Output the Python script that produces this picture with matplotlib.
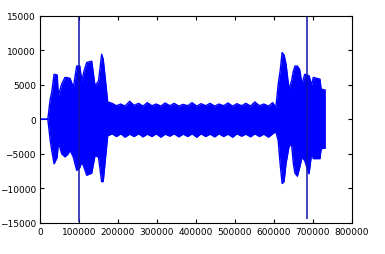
import matplotlib
matplotlib.use('Agg')
import matplotlib.pyplot as plt

# envelope of the waveform (sample index, upper peak, lower peak)
pos = [0, 20000, 21000, 26000, 30000, 36000, 44000, 47000, 55500, 64000,
       72000, 77000, 85500, 94000, 102000, 107000, 113000, 119700, 132500,
       141000, 150000, 158000, 162000, 169000, 173500,
       185000, 196000, 207000, 218000, 230000, 241000, 253000, 264000,
       275000, 287000, 298000, 310000, 321000, 333000, 344000, 356000,
       367000, 379000, 390000, 402000, 413000, 425000, 436000, 448000,
       459000, 471000, 482000, 494000, 505000, 517000, 528000, 540000,
       551000, 563000, 574000, 586000, 597000,
       605000, 611000, 616000, 621000, 626000, 631000, 638500, 645000,
       650000, 654000, 660000, 666000, 672000, 679000, 690000, 696500,
       701000, 718000, 721000, 732000]
upper = [0, 0, 500, 2900, 3900, 6500, 6400, 3400, 5100, 6050,
         6000, 5900, 4600, 7700, 7700, 5550, 7000, 8200, 8400,
         4850, 5500, 9400, 8700, 5000, 2500,
         2300, 1950, 2200, 1900, 2600, 2000, 2300, 1900,
         2400, 1950, 2200, 1900, 2350, 1950, 2300, 1900,
         2150, 1950, 2400, 1900, 2250, 1950, 2300, 1900,
         2200, 1950, 2350, 1900, 2250, 1950, 2300, 1900,
         2500, 1950, 2200, 1900, 2400,
         1700, 5100, 7000, 9650, 9300, 8000, 4370, 5500,
         7000, 7700, 7700, 7200, 5100, 6500, 6300, 4950,
         6050, 5800, 4370, 4200]
lower = [0, 0, -500, -3000, -4500, -6450, -5500, -3300, -5000, -5450,
         -5000, -4500, -5500, -7400, -7000, -6150, -7000, -8100, -7800,
         -5250, -5500, -9050, -9000, -5000, -2400,
         -2100, -2500, -2100, -2600, -2150, -2500, -2100, -2550,
         -2150, -2500, -2100, -2600, -2150, -2450, -2100, -2550,
         -2150, -2500, -2100, -2600, -2100, -2500, -2150, -2550,
         -2100, -2500, -2150, -2600, -2100, -2450, -2150, -2550,
         -2100, -2500, -2150, -2600, -2100,
         -1800, -3100, -6500, -9300, -9000, -6400, -4000, -3500,
         -6500, -7800, -8250, -7000, -5500, -6000, -7900, -5000,
         -5700, -5700, -4300, -4130]

# single-sample clicks
spike_pos = [99000, 684000]
spike_hi = [15000, 15000]
spike_lo = [-14800, -14400]

fig = plt.figure(figsize=(3.85, 2.55), dpi=100)
ax = fig.add_axes([0.104, 0.122, 0.81, 0.813])

ax.fill_between(pos, lower, upper, color='b', lw=0)
ax.plot(pos, upper, color='b', lw=1)
ax.plot(pos, lower, color='b', lw=1)
ax.vlines(spike_pos, spike_lo, spike_hi, color='#1010b0', lw=1.1)

ax.set_xlim(0, 800000)
ax.set_ylim(-15000, 15000)
ax.set_xticks(range(0, 800001, 100000))
ax.set_yticks(range(-15000, 15001, 5000))
ax.tick_params(direction='in', top=True, right=True, length=3,
               labelsize=6.5, pad=3)
for s in ax.spines.values():
    s.set_linewidth(0.8)

fig.savefig('out.png', dpi=100, facecolor='white')
